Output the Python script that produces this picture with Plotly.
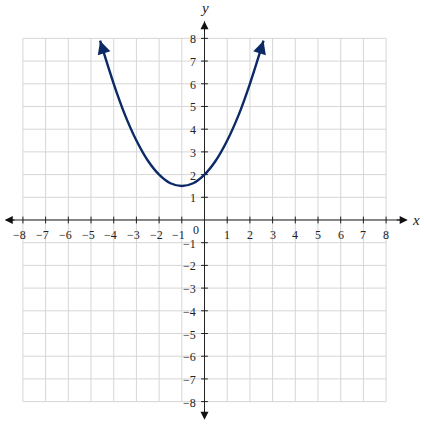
import plotly.graph_objects as go

# values
curve_x = [-4.6, -4, -3.5, -3, -2.5, -2, -1.5, -1, -0.5, 0, 0.5, 1, 1.5, 2, 2.6]
curve_y = [7.9, 6.0, 4.62, 3.5, 2.62, 2.0, 1.62, 1.5, 1.62, 2.0, 2.62, 3.5, 4.62, 6.0, 7.9]
ticks = list(range(-8, 9))
tick_text = [str(t).replace("-", "\u2212") for t in ticks]

navy = "#0b2a66"
grid = "#d6d6d6"
serif = "Liberation Serif, DejaVu Serif, serif"
font = dict(family=serif, size=12, color="#222")

fig = go.Figure()

# grid lines
gx, gy = [], []
for t in ticks:
    gx += [t, t, None, -8, 8, None]
    gy += [-8, 8, None, t, t, None]
fig.add_trace(go.Scatter(x=gx, y=gy, mode="lines", line=dict(color=grid, width=1),
                         hoverinfo="skip"))

# axes
fig.add_trace(go.Scatter(x=[-8.75, 8.9, None, 0, 0], y=[0, 0, None, -8.75, 8.75],
                         mode="lines", line=dict(color="#222", width=1), hoverinfo="skip"))

# tick marks
tx, ty = [], []
for t in ticks:
    if t == 0:
        continue
    tx += [t, t, None, -0.15, 0.15, None]
    ty += [-0.15, 0.15, None, t, t, None]
fig.add_trace(go.Scatter(x=tx, y=ty, mode="lines", line=dict(color="#222", width=1),
                         hoverinfo="skip"))

# the parabola
fig.add_trace(go.Scatter(x=curve_x, y=curve_y, mode="lines",
                         line=dict(color=navy, width=2.4, shape="spline"), hoverinfo="skip"))

ann = []
# curve arrowheads
for (x0, y0), (x1, y1) in [((curve_x[1], curve_y[1]), (curve_x[0], curve_y[0])),
                           ((curve_x[-2], curve_y[-2]), (curve_x[-1], curve_y[-1]))]:
    f = 0.25
    ann.append(dict(x=x1, y=y1, ax=x1 + (x0 - x1) * f, ay=y1 + (y0 - y1) * f,
                    xref="x", yref="y", axref="x", ayref="y", showarrow=True,
                    arrowhead=2, arrowsize=1.2, arrowwidth=2.2, arrowcolor=navy,
                    standoff=0, text=""))
# axis arrowheads
for x1, y1, x0, y0 in [(-8.8, 0, -8.3, 0), (8.95, 0, 8.4, 0), (0, 8.75, 0, 8.25), (0, -8.8, 0, -8.3)]:
    ann.append(dict(x=x1, y=y1, ax=x0, ay=y0, xref="x", yref="y", axref="x", ayref="y",
                    showarrow=True, arrowhead=2, arrowsize=1.6, arrowwidth=1,
                    arrowcolor="#111", standoff=0, text=""))

# tick labels
for t, s in zip(ticks, tick_text):
    if t == 0:
        continue
    ann.append(dict(x=t, y=-0.28, text=s, showarrow=False, xref="x", yref="y",
                    yanchor="top", xshift=-3 if t < 0 else 0, font=font))
    ann.append(dict(x=-0.3, y=t, text=s, showarrow=False, xref="x", yref="y",
                    xanchor="right", yshift=-1, font=font))
ann.append(dict(x=-0.38, y=-0.42, text="0", showarrow=False, xref="x", yref="y",
                font=font))
ann.append(dict(x=9.05, y=0, text="<i>x</i>", showarrow=False, xref="x", yref="y",
                xanchor="left", font=dict(family=serif, size=15, color="#222")))
ann.append(dict(x=0, y=9.35, text="<i>y</i>", showarrow=False, xref="x", yref="y",
                font=dict(family=serif, size=15, color="#222")))

fig.update_layout(
    width=424, height=425,
    margin=dict(l=0, r=0, t=0, b=0),
    plot_bgcolor="white", paper_bgcolor="white",
    showlegend=False,
    annotations=ann,
    xaxis=dict(range=[-9.01, 9.67], visible=False, fixedrange=True),
    yaxis=dict(range=[-9.03, 9.69], visible=False, fixedrange=True),
)

fig.write_html("out.html", config={"displayModeBar": False},
               post_script="document.body.style.margin='0px';")
